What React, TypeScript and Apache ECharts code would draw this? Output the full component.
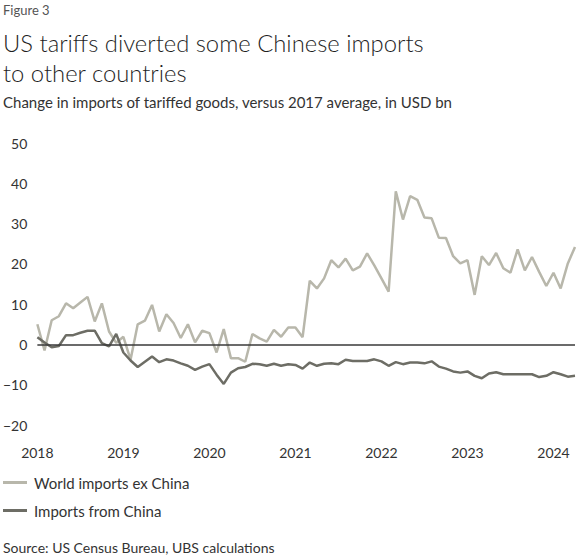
import { useEffect, useRef } from 'react';
import * as echarts from 'echarts';

const years = ['2018', '2019', '2020', '2021', '2022', '2023', '2024'];
const months = ['01', '02', '03', '04', '05', '06', '07', '08', '09', '10', '11', '12'];

// monthly, Jan 2018 .. Apr 2024
const worldExChina = [
    5, -1.5, 6, 7, 10.2, 9, 10.4, 11.8, 5.7, 10.2, 3.2, 0.4,
    1.9, -3.8, 5, 5.9, 9.8, 3.2, 7.5, 5.3, 1.6, 5, 0.5, 3.4,
    2.8, -2, 3.8, -3.4, -3.4, -4.3, 2.6, 1.5, 0.7, 3.6, 1.9, 4.2,
    4.2, 1.8, 15.8, 13.9, 16.4, 20.9, 19.1, 21.3, 18.4, 19.3, 22.6, 19.6,
    16.4, 13.1, 38, 31, 36.8, 35.9, 31.5, 31.3, 26.5, 26.4, 21.9, 20.1,
    20.9, 12.3, 21.9, 19.7, 22.7, 18.9, 17.8, 23.6, 18.4, 21.7, 18, 14.5,
    17.8, 13.9, 20.1, 24.2,
];

const fromChina = [
    1.8, 0.5, -0.7, -0.4, 2.3, 2.3, 2.9, 3.4, 3.4, 0.3, -0.5, 2.6,
    -2, -4, -5.6, -4.3, -3, -4.4, -3.7, -4, -4.7, -5.3, -6.3, -5.5,
    -4.9, -7.5, -9.8, -7, -5.9, -5.6, -4.8, -4.9, -5.3, -4.8, -5.3, -4.9,
    -5.1, -6, -4.5, -5.3, -4.8, -4.7, -4.9, -3.8, -4.1, -4.1, -4.1, -3.7,
    -4.2, -5.3, -4.4, -4.9, -4.5, -4.5, -4.7, -4.2, -5.5, -6, -6.7, -7,
    -6.7, -7.8, -8.4, -7.2, -6.9, -7.4, -7.4, -7.4, -7.4, -7.4, -8.1, -7.8,
    -6.9, -7.4, -8, -7.8,
];

const categories = years
    .flatMap((y) => months.map((m) => `${y}-${m}`))
    .slice(0, worldExChina.length);

const seriesNames = ['World imports ex China', 'Imports from China'];
const seriesColors = ['#b8b7ab', '#6d6d65'];

const FONT = 'Lato, "Open Sans", sans-serif';

export default function App() {
    const chartRef = useRef<HTMLDivElement>(null);

    useEffect(() => {
        if (!chartRef.current) return;
        const chart = echarts.init(chartRef.current, null, { renderer: 'svg' });

        chart.setOption({
            animation: false,
            textStyle: { fontFamily: FONT },
            title: [
                {
                    text: 'Figure 3',
                    left: 3,
                    top: 3,
                    padding: 0,
                    textStyle: { fontSize: 13, fontWeight: 'normal', color: '#555', fontFamily: FONT },
                },
                {
                    text: 'US tariffs diverted some Chinese imports\nto other countries',
                    left: 3,
                    top: 28,
                    padding: 0,
                    textStyle: { fontSize: 23.8, fontWeight: 300, lineHeight: 30, color: '#1f1f1f', fontFamily: FONT },
                },
                {
                    text: 'Change in imports of tariffed goods, versus 2017 average, in USD bn',
                    left: 3,
                    top: 94,
                    padding: 0,
                    textStyle: { fontSize: 15, fontWeight: 'normal', color: '#333', fontFamily: FONT },
                },
                {
                    text: 'Source: US Census Bureau, UBS calculations',
                    left: 3,
                    top: 540,
                    padding: 0,
                    textStyle: { fontSize: 14, fontWeight: 'normal', color: '#333', fontFamily: FONT },
                },
            ],
            legend: {
                orient: 'vertical',
                left: 3,
                top: 475,
                padding: 0,
                itemGap: 13,
                itemWidth: 24,
                itemHeight: 3,
                icon: 'rect',
                data: seriesNames,
                textStyle: { fontSize: 15, color: '#333', fontFamily: FONT, padding: [0, 0, 0, 2] },
            },
            grid: { left: 36, right: 5, top: 143, bottom: 132, containLabel: false },
            xAxis: {
                type: 'category',
                data: categories,
                boundaryGap: false,
                axisLine: { show: false },
                axisTick: { show: false },
                axisLabel: {
                    interval: (i: number) => i % 12 === 0,
                    formatter: (v: string) => v.slice(0, 4),
                    fontSize: 14,
                    color: '#333',
                    margin: 20,
                    fontFamily: FONT,
                },
                splitLine: { show: false },
            },
            yAxis: {
                type: 'value',
                min: -20,
                max: 50,
                interval: 10,
                axisLine: { show: false },
                axisTick: { show: false },
                splitLine: { show: false },
                axisLabel: {
                    fontSize: 14,
                    color: '#333',
                    margin: 10,
                    fontFamily: FONT,
                    formatter: (v: number) => (v < 0 ? `\u2212${Math.abs(v)}` : `${v}`),
                },
            },
            series: [
                {
                    name: seriesNames[0],
                    type: 'line',
                    data: worldExChina,
                    showSymbol: false,
                    lineStyle: { width: 2.5, color: seriesColors[0] },
                    itemStyle: { color: seriesColors[0] },
                    markLine: {
                        silent: true,
                        symbol: 'none',
                        label: { show: false },
                        lineStyle: { color: '#3a3a3a', width: 1.5, type: 'solid' },
                        data: [{ yAxis: 0 }],
                    },
                    z: 2,
                },
                {
                    name: seriesNames[1],
                    type: 'line',
                    data: fromChina,
                    showSymbol: false,
                    lineStyle: { width: 2.5, color: seriesColors[1] },
                    itemStyle: { color: seriesColors[1] },
                    z: 3,
                },
            ],
        });

        return () => {
            chart.dispose();
        };
    }, []);

    return (
        <div
            ref={chartRef}
            style={{ position: 'fixed', left: 0, top: 0, width: 580, height: 557, background: '#fff' }}
        />
    );
}
